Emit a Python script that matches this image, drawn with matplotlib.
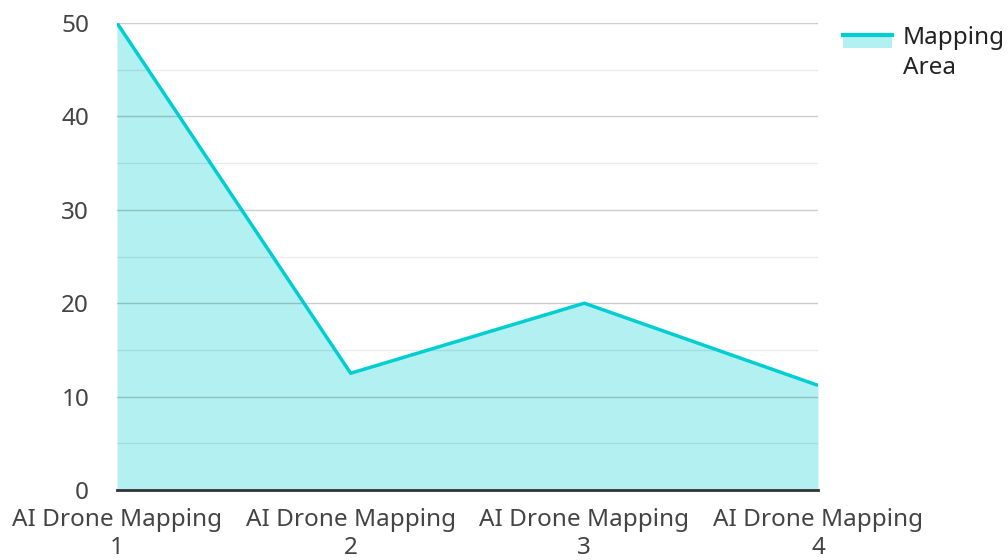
import numpy as np
import matplotlib.pyplot as plt
from matplotlib.legend_handler import HandlerBase
from matplotlib.patches import Rectangle
from matplotlib.lines import Line2D

plt.rcParams['font.family'] = ['Noto Sans', 'DejaVu Sans']

categories = ['AI Drone Mapping\n1', 'AI Drone Mapping\n2', 'AI Drone Mapping\n3', 'AI Drone Mapping\n4']
mapping_area = [50, 12.5, 20, 11.2]
y_ticks = [0, 10, 20, 30, 40, 50]

LINE = '#00CED1'
FILL = '#b2f0f1'
TEXT = '#444444'
FS = 17.5


class AreaHandler(HandlerBase):
    # filled box with the line along its top edge, lifted to the first text line
    def create_artists(self, legend, orig_handle, xdescent, ydescent,
                       width, height, fontsize, trans):
        y0 = -ydescent + 0.5 * fontsize
        rect = Rectangle((-xdescent, y0), width, height,
                         facecolor=FILL, edgecolor='none', transform=trans)
        top = y0 + height
        line = Line2D([-xdescent, -xdescent + width], [top, top],
                      color=LINE, lw=3, transform=trans)
        return [rect, line]


fig = plt.figure(figsize=(10.08, 5.6), dpi=100)
ax = fig.add_axes([117 / 1008, 1 - 490 / 560, (818 - 117) / 1008, (490 - 23) / 560])

x = np.arange(len(categories))
ax.fill_between(x, mapping_area, 0, color=FILL, lw=0, zorder=1)
ax.plot(x, mapping_area, color=LINE, lw=2.5, zorder=3, solid_capstyle='butt')

ax.set_xlim(0, len(categories) - 1)
ax.set_ylim(0, 50)
ax.set_yticks(y_ticks)
ax.set_yticks(np.arange(5, 50, 10), minor=True)
ax.set_xticks(x)
ax.set_xticklabels(categories, fontsize=FS, color=TEXT, linespacing=1.2)
ax.tick_params(axis='y', labelsize=FS, labelcolor=TEXT, length=0, pad=20)
ax.tick_params(axis='y', which='minor', length=0)
ax.tick_params(axis='x', length=0, pad=13)

ax.grid(axis='y', which='major', color='black', alpha=0.2, lw=1, zorder=2)
ax.grid(axis='y', which='minor', color='black', alpha=0.08, lw=1, zorder=2)
ax.set_axisbelow(False)
for s in ['top', 'right', 'left']:
    ax.spines[s].set_visible(False)
ax.spines['bottom'].set_color('#333333')
ax.spines['bottom'].set_linewidth(2)
ax.spines['bottom'].set_zorder(4)

leg = fig.legend([object()], ['Mapping\nArea'], handler_map={object: AreaHandler()},
                 loc='upper left', bbox_to_anchor=(824 / 1008, 1 - 7 / 560),
                 frameon=False, handlelength=2.0, handleheight=0.45,
                 handletextpad=0.45, labelcolor='#222222', borderpad=0.3,
                 prop={'size': FS})
leg.get_texts()[0].set_linespacing(1.3)

fig.savefig('out.png', dpi=100)
